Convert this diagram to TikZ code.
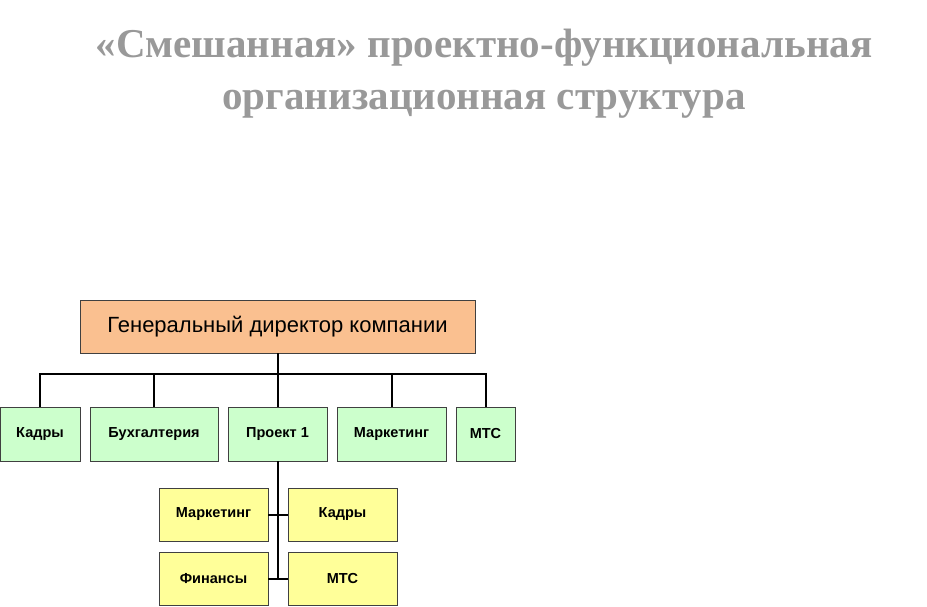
\documentclass[tikz,border=0pt]{standalone}
\usepackage{fontspec}
\setmainfont{Liberation Serif}
\setsansfont{Liberation Sans}
\definecolor{headfill}{HTML}{FAC090}
\definecolor{deptfill}{HTML}{CCFFCC}
\definecolor{projfill}{HTML}{FFFF99}
\definecolor{titlegray}{HTML}{999999}
\begin{document}
\begin{tikzpicture}[x=1pt, y=-1pt,
                every node/.style={draw=black!75, thick, inner sep=0pt, font=\sffamily\bfseries\fontsize{14.5}{17}\selectfont},
                conn/.style={line width=2pt}]
        \useasboundingbox (0,0) rectangle (927,607);

        % Title
        \node[draw=none, font=\rmfamily\bfseries\fontsize{41}{52}\selectfont, text=titlegray, align=center] (title) at (484,74)
                {«Смешанная» проектно-функциональная\\организационная структура};

        % Director
        \node[fill=headfill, minimum width=395pt, minimum height=53pt, font=\sffamily\fontsize{22}{26}\selectfont] (gd) at (277.5,326.5) {Генеральный директор компании};

        % Departments
        \node[fill=deptfill, minimum width=80pt, minimum height=54pt] (kadry) at (40,434) {Кадры};
        \node[fill=deptfill, minimum width=128pt, minimum height=54pt] (buh) at (154,434) {Бухгалтерия};
        \node[fill=deptfill, minimum width=99pt, minimum height=54pt] (proj) at (277.5,434) {Проект 1};
        \node[fill=deptfill, minimum width=109pt, minimum height=54pt] (mark) at (391.5,434) {Маркетинг};
        \node[fill=deptfill, minimum width=59pt, minimum height=54pt] (mts) at (485.5,434) {МТС};

        % Project team
        \node[fill=projfill, minimum width=109pt, minimum height=53pt] (pmark) at (213.5,514.5) {Маркетинг};
        \node[fill=projfill, minimum width=109pt, minimum height=53pt] (pkadry) at (342.5,514.5) {Кадры};
        \node[fill=projfill, minimum width=109pt, minimum height=53pt] (pfin) at (213.5,579) {Финансы};
        \node[fill=projfill, minimum width=109pt, minimum height=53pt] (pmts) at (342.5,579) {МТС};

        % Connectors
        \coordinate (bus) at (277.5,374);
        \draw[conn] (gd.south) -- (proj.north);
        \draw[conn] (kadry.north) |- (bus) -| (mts.north);
        \draw[conn] (buh.north) -- (buh.north |- bus);
        \draw[conn] (mark.north) -- (mark.north |- bus);
        \draw[conn] (proj.south) -- (proj.south |- pfin.east);
        \draw[conn] (pmark.east) -- (pkadry.west);
        \draw[conn] (pfin.east) -- (pmts.west);
\end{tikzpicture}
\end{document}
